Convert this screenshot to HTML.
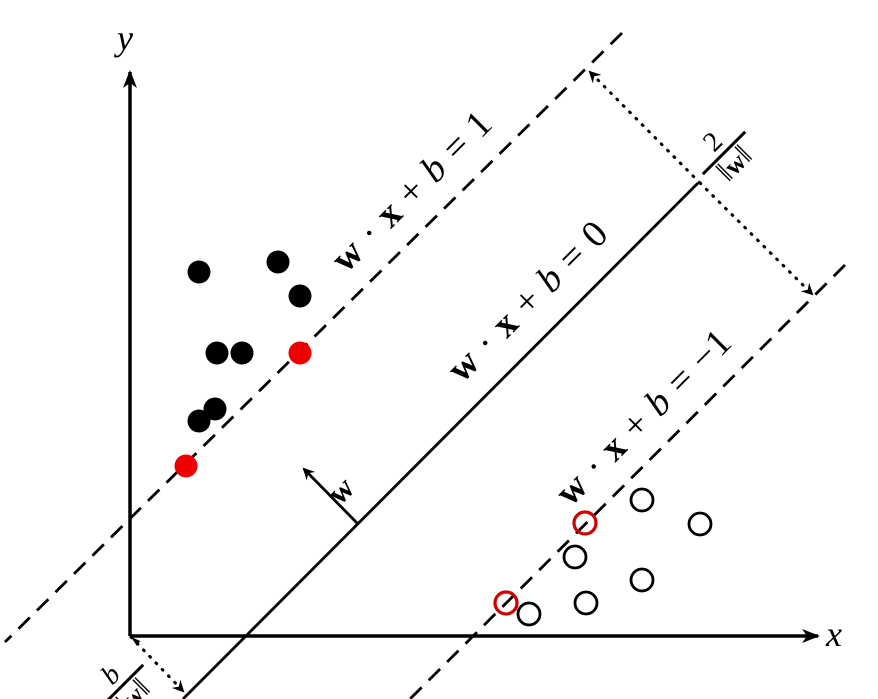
<!DOCTYPE html>
<html><head><meta charset="utf-8"><style>html,body{margin:0;padding:0;background:#fff}svg{display:block}</style></head>
<body>
<svg width="878" height="699" viewBox="0 0 878 699" xmlns="http://www.w3.org/2000/svg" font-family="Liberation Serif, serif">
<defs>
<marker id="ah" markerWidth="12" markerHeight="12" refX="10" refY="6" orient="auto" markerUnits="userSpaceOnUse"><path d="M0,0 L12,6 L0,12 L4,6 Z" fill="#000"/></marker>
<marker id="ah2" markerWidth="18" markerHeight="14" refX="16" refY="7" orient="auto" markerUnits="userSpaceOnUse"><path d="M0,0 L18,7 L0,14 L5,7 Z" fill="#000"/></marker>
</defs>
<line x1="130" y1="636" x2="130" y2="72" stroke="#000" stroke-width="3.5" marker-end="url(#ah2)"/>
<line x1="130" y1="636" x2="818" y2="636" stroke="#000" stroke-width="3.5" marker-end="url(#ah2)"/>
<text x="117" y="50" font-size="36" font-style="italic">y</text>
<text x="826" y="646" font-size="36" font-style="italic">x</text>
<line x1="622" y1="33" x2="5" y2="642" stroke="#000" stroke-width="2.8" stroke-dasharray="16,10"/>
<line x1="845" y1="265" x2="410" y2="699" stroke="#000" stroke-width="2.8" stroke-dasharray="16,10"/>
<line x1="698" y1="183" x2="183" y2="699" stroke="#000" stroke-width="2.8"/>
<line x1="700" y1="183" x2="590" y2="72" stroke="#000" stroke-width="3" stroke-dasharray="1,8" stroke-linecap="round" marker-end="url(#ah)"/>
<line x1="700" y1="183" x2="812" y2="294" stroke="#000" stroke-width="3" stroke-dasharray="1,8" stroke-linecap="round" marker-end="url(#ah)"/>
<line x1="131" y1="637" x2="183" y2="691" stroke="#000" stroke-width="3" stroke-dasharray="1,8" stroke-linecap="round" marker-end="url(#ah)"/>
<path d="M131,637 L145,643 L140,641 L137,646 Z" fill="#000"/>
<g transform="translate(724,153) rotate(-45)">
<text x="0" y="-7" font-size="28" text-anchor="middle">2</text>
<line x1="-30" y1="0" x2="30" y2="0" stroke="#000" stroke-width="3"/>
<text x="0" y="24" font-size="26" text-anchor="middle"><tspan font-size="30">‖</tspan><tspan font-weight="bold">w</tspan><tspan font-size="30">‖</tspan></text>
</g>
<g transform="translate(122,686) rotate(-45)">
<text x="0" y="-7" font-size="28" text-anchor="middle" font-style="italic">b</text>
<line x1="-30" y1="0" x2="30" y2="0" stroke="#000" stroke-width="3"/>
<text x="0" y="24" font-size="26" text-anchor="middle"><tspan font-size="30">‖</tspan><tspan font-weight="bold">w</tspan><tspan font-size="30">‖</tspan></text>
</g>
<line x1="357" y1="523" x2="304" y2="469" stroke="#000" stroke-width="2.8" marker-end="url(#ah)"/>
<text transform="translate(348,498) rotate(-45)" font-size="32" font-weight="bold" text-anchor="middle">w</text>
<text transform="translate(420,200) rotate(-45)" font-size="38" text-anchor="middle" word-spacing="2"><tspan font-weight="bold">w</tspan> · <tspan font-weight="bold">x</tspan> + <tspan font-style="italic">b</tspan> = 1</text>
<text transform="translate(536,310) rotate(-45)" font-size="38" text-anchor="middle" word-spacing="2"><tspan font-weight="bold">w</tspan> · <tspan font-weight="bold">x</tspan> + <tspan font-style="italic">b</tspan> = 0</text>
<text transform="translate(652,426) rotate(-45)" font-size="38" text-anchor="middle" word-spacing="2"><tspan font-weight="bold">w</tspan> · <tspan font-weight="bold">x</tspan> + <tspan font-style="italic">b</tspan> = −1</text>
<g fill="#000">
<circle cx="199" cy="272" r="11.5"/><circle cx="278" cy="262" r="11.5"/><circle cx="300" cy="296" r="11.5"/>
<circle cx="217" cy="353" r="11.5"/><circle cx="242" cy="353" r="11.5"/><circle cx="215" cy="409" r="11.5"/><circle cx="199" cy="421" r="11.5"/>
</g>
<g fill="#e00">
<circle cx="300" cy="353" r="11.5"/><circle cx="186" cy="466" r="11.5"/>
</g>
<g fill="none" stroke="#000" stroke-width="2.8">
<circle cx="642" cy="500" r="11"/><circle cx="700" cy="524" r="11"/><circle cx="575" cy="557" r="11"/>
<circle cx="642" cy="580" r="11"/><circle cx="586" cy="603" r="11"/><circle cx="529" cy="614" r="11"/>
</g>
<g fill="none" stroke="#c00" stroke-width="3.2">
<circle cx="585" cy="523" r="11"/><circle cx="506" cy="603" r="11"/>
</g>
</svg>
</body></html>
